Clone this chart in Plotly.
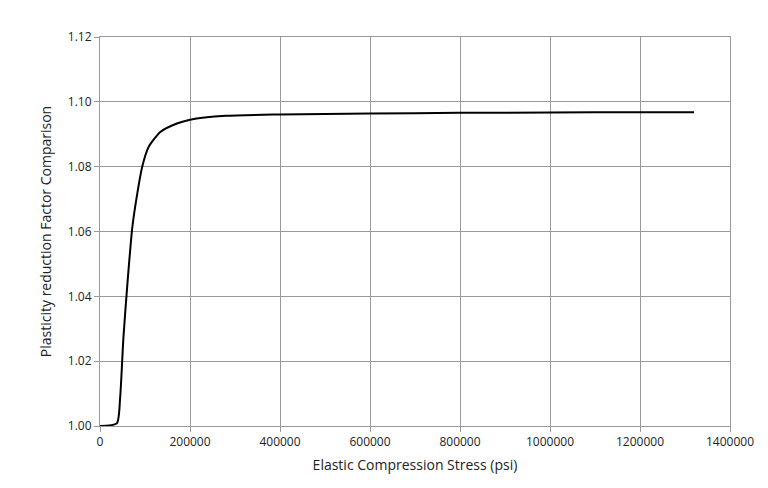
import plotly.graph_objects as go

stress = [0, 37400, 44700, 52000, 60800, 71800, 82800, 93800, 108500, 134000, 170800, 200000, 280000, 398000, 600000, 800000, 1000000, 1200000, 1320000]
factor = [1.000, 1.0008, 1.0086, 1.0272, 1.0437, 1.0613, 1.0717, 1.0800, 1.0862, 1.0907, 1.0933, 1.0945, 1.0957, 1.0961, 1.0964, 1.0966, 1.0967, 1.0968, 1.0968]

fig = go.Figure(go.Scatter(x=stress, y=factor, mode="lines", line=dict(color="black", width=2, shape="spline", smoothing=0.6)))
font = dict(family="Open Sans, Liberation Sans, sans-serif", size=12, color="#222")
fig.update_layout(
    width=768, height=488, plot_bgcolor="white", paper_bgcolor="white",
    margin=dict(l=92, r=46, t=29, b=70), showlegend=False, font=font,
    xaxis=dict(range=[0, 1400000], dtick=200000, tickformat="d", showgrid=True, gridcolor="#999", gridwidth=1,
               showline=True, linecolor="#999", mirror=True, ticks="outside", ticklen=5, tickcolor="#999",
               title=dict(text="Elastic Compression Stress (psi)", standoff=10)),
    yaxis=dict(range=[1.0, 1.12], dtick=0.02, tickformat=".2f", showgrid=True, gridcolor="#999", gridwidth=1,
               showline=True, linecolor="#999", mirror=True, ticks="outside", ticklen=5, tickcolor="#999",
               title=dict(text="Plasticity reduction Factor Comparison", standoff=12)),
)
fig.update_yaxes(automargin=False)
fig.update_xaxes(automargin=False)
fig.write_html("out.html")
